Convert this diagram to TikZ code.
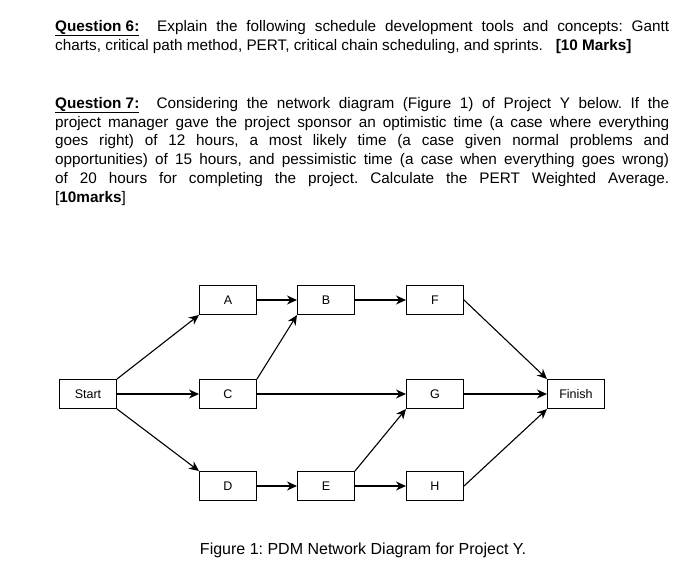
\documentclass[tikz,border=0pt]{standalone}
\usepackage{fontspec}
\setmainfont{Liberation Sans}
\usetikzlibrary{arrows.meta}
\begin{document}
\frenchspacing
\begin{tikzpicture}[x=1pt,y=1pt,
  box/.style={draw,line width=1pt,minimum width=57pt,minimum height=29pt,inner sep=0pt,font=\fontsize{12.5}{14}\selectfont},
  arr/.style={line width=1.1pt,-{Stealth[length=10pt,width=9pt]}},
  para/.style={anchor=north west,text width=614pt,align=justify,inner sep=0pt,font=\fontsize{15.3}{18.8}\selectfont}]
\useasboundingbox (0,0) rectangle (681,-584);
\node[para] (q6) at (55,-20) {\textbf{\underline{Question 6:}}\ \ Explain the following schedule development tools and concepts: Gantt\linebreak charts, critical path method, PERT, critical chain scheduling, and sprints.\ \ \ \textbf{[10 Marks]}\hspace*{4pt}};
\node[para] (q7) at (55,-97) {\textbf{\underline{Question 7:}}\ \ Considering the network diagram (Figure 1) of Project Y below. If the\linebreak project manager gave the project sponsor an optimistic time (a case where everything\linebreak goes right) of 12 hours, a most likely time (a case given normal problems and\linebreak opportunities) of 15 hours, and pessimistic time (a case when everything goes wrong)\linebreak of 20 hours for completing the project. Calculate the PERT Weighted Average.\linebreak{}[\textbf{10marks}]};
\node[box] (S) at (88,-394) {Start};
\node[box] (A) at (228,-300) {A};
\node[box] (C) at (228,-394) {C};
\node[box] (D) at (228,-486) {D};
\node[box] (B) at (326,-300) {B};
\node[box] (E) at (326,-486) {E};
\node[box] (F) at (435,-300) {F};
\node[box] (G) at (435,-394) {G};
\node[box] (H) at (435,-486) {H};
\node[box] (Fi) at (576,-394) {Finish};
\draw[arr] (S.north east) -- (A.south west);
\draw[arr] (S.east) -- (C.west);
\draw[arr] (S.south east) -- (D.north west);
\draw[arr] (A.east) -- (B.west);
\draw[arr] (B.east) -- (F.west);
\draw[arr] (C.north east) -- (B.south west);
\draw[arr] (C.east) -- (G.west);
\draw[arr] (D.east) -- (E.west);
\draw[arr] (E.east) -- (H.west);
\draw[arr] (E.north east) -- (G.south west);
\draw[arr] (F.east) -- (Fi.north west);
\draw[arr] (G.east) -- (Fi.west);
\draw[arr] (H.east) -- (Fi.south west);
\node[font=\fontsize{16}{18}\selectfont] (cap) at (363,-550) {Figure 1: PDM Network Diagram for Project Y.};
\end{tikzpicture}
\end{document}
